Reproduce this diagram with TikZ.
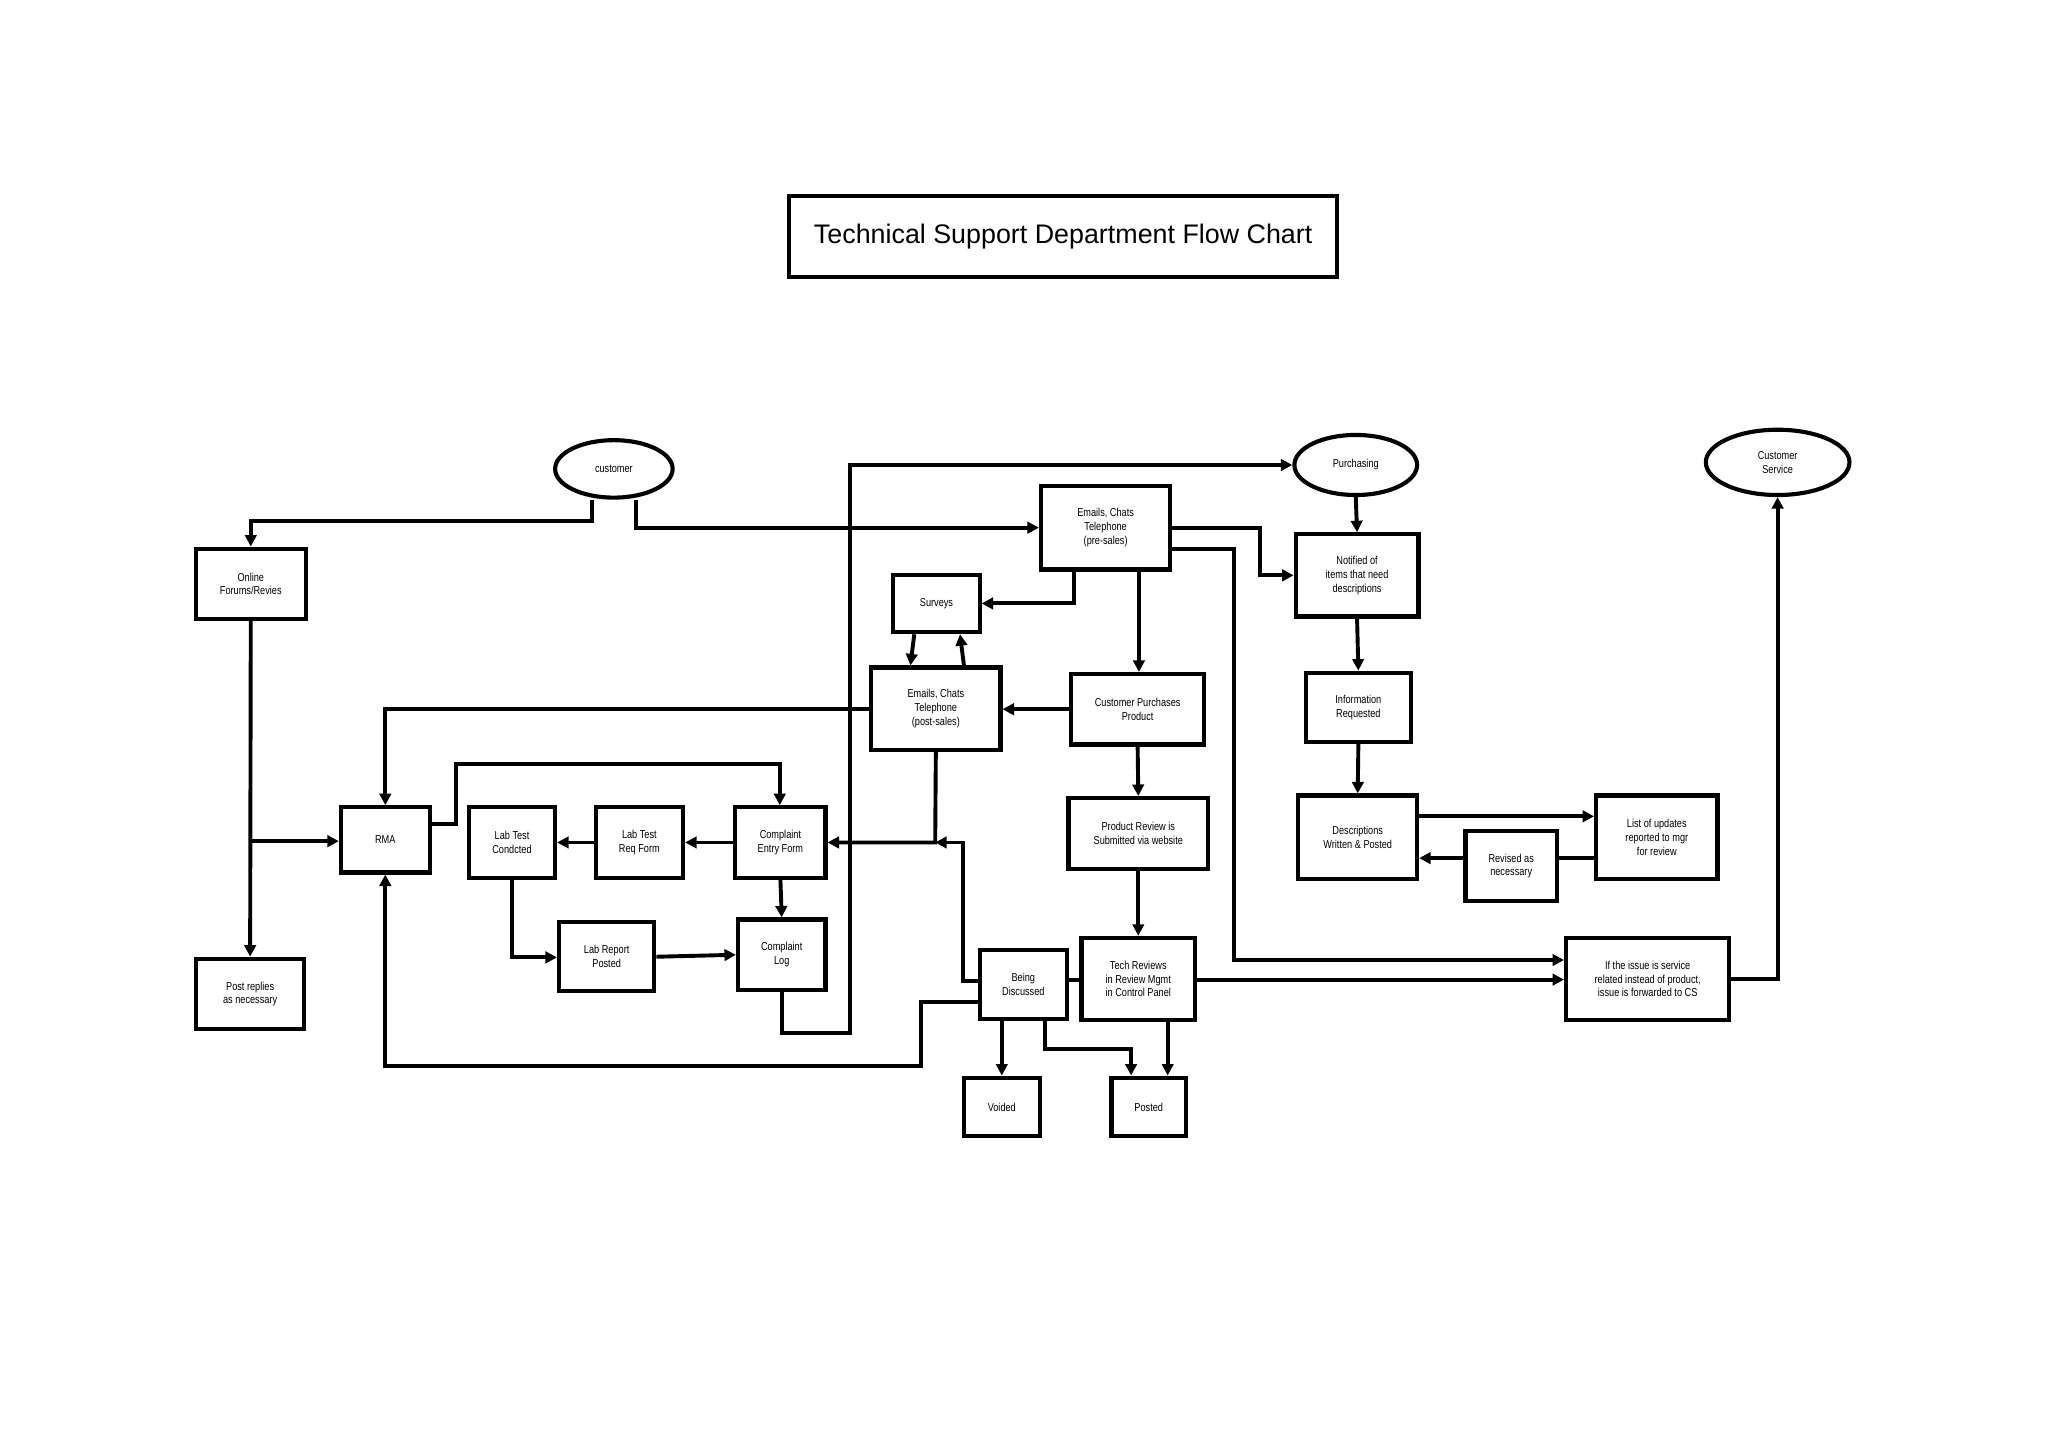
\documentclass[tikz,border=0pt]{standalone}
\usepackage{fontspec}
\setmainfont{Liberation Sans}
\newfontfamily\narrowf{Liberation Sans}[FakeStretch=0.8]
\usetikzlibrary{shapes.geometric,arrows.meta,calc}
\begin{document}
\begin{tikzpicture}[x=0.02cm,y=-0.02cm,
  ln/.style={line width=1.7pt,line join=miter},
  arr/.style={ln,-{Triangle[length=5pt,width=5pt]}},
  bx/.style={draw,line width=1.8pt,align=center,font=\narrowf\fontsize{5}{6}\selectfont,inner sep=1pt},
  el/.style={draw,ellipse,line width=1.8pt,align=center,font=\narrowf\fontsize{5}{6}\selectfont,inner sep=0pt}]
\useasboundingbox (0,0) rectangle (1568,1108);
\node[draw,line width=1.8pt,minimum width=8.4cm,minimum height=1.24cm,font=\fontsize{11.7}{14}\selectfont] (title) at (814,181) {Technical Support Department Flow Chart};
\node[el,minimum width=1.8cm,minimum height=0.88cm] (cust) at (470,359) {customer};
\node[el,minimum width=1.88cm,minimum height=0.92cm] (purch) at (1038,356) {Purchasing};
\node[el,minimum width=2.2cm,minimum height=1.0cm] (cs) at (1361,354) {Customer\\Service};
\node[bx,minimum width=1.68cm,minimum height=1.08cm] (online) at (192,447) {Online\\Forums/Revies};
\node[bx,minimum width=1.66cm,minimum height=1.08cm] (post) at (191.5,761) {Post replies\\as necessary};
\node[bx,minimum width=1.36cm,minimum height=1.0cm] (rma) at (295,643) {RMA};
\node[bx,minimum width=1.32cm,minimum height=1.08cm] (ltc) at (392,645) {Lab Test\\Condcted};
\node[bx,minimum width=1.34cm,minimum height=1.08cm] (ltr) at (489.5,645) {Lab Test\\Req Form};
\node[bx,minimum width=1.38cm,minimum height=1.08cm] (cef) at (597.5,645) {Complaint\\Entry Form};
\node[bx,minimum width=1.46cm,minimum height=1.06cm] (lrp) at (464.5,732.5) {Lab Report\\Posted};
\node[bx,minimum width=1.34cm,minimum height=1.08cm] (clog) at (598.5,731) {Complaint\\Log};
\node[bx,minimum width=1.32cm,minimum height=0.88cm] (surv) at (717,462) {Surveys};
\node[bx,minimum width=1.98cm,minimum height=1.26cm] (epost) at (716.5,542.5) {Emails, Chats\\Telephone\\(post-sales)};
\node[bx,minimum width=1.98cm,minimum height=1.28cm] (epre) at (846.5,404) {Emails, Chats\\Telephone\\(pre-sales)};
\node[bx,minimum width=2.04cm,minimum height=1.08cm] (cpp) at (871,543) {Customer Purchases\\Product};
\node[bx,minimum width=2.14cm,minimum height=1.08cm] (prs) at (871.5,638) {Product Review is\\Submitted via website};
\node[bx,minimum width=1.74cm,minimum height=1.26cm] (tech) at (871.5,749.5) {Tech Reviews\\in Review Mgmt\\in Control Panel};
\node[bx,minimum width=1.34cm,minimum height=1.06cm] (bd) at (783.5,753.5) {Being\\Discussed};
\node[bx,minimum width=1.16cm,minimum height=0.9cm] (void) at (767,847.5) {Voided};
\node[bx,minimum width=1.14cm,minimum height=0.9cm] (posted) at (879.5,847.5) {Posted};
\node[bx,minimum width=1.88cm,minimum height=1.26cm] (notif) at (1039,440.5) {Notified of\\items that need\\descriptions};
\node[bx,minimum width=1.6cm,minimum height=1.06cm] (info) at (1040,541.5) {Information\\Requested};
\node[bx,minimum width=1.82cm,minimum height=1.28cm] (desc) at (1039.5,641) {Descriptions\\Written \& Posted};
\node[bx,minimum width=1.4cm,minimum height=1.08cm] (rev) at (1157,663) {Revised as\\necessary};
\node[bx,minimum width=1.86cm,minimum height=1.28cm] (list) at (1268.5,641) {List of updates\\reported to mgr\\for review};
\node[bx,minimum width=2.5cm,minimum height=1.26cm] (issue) at (1261.5,749.5) {If the issue is service\\related instead of product,\\issue is forwarded to CS};
\coordinate (j1) at (716,645);
\coordinate (j2) at (192,644);
% connectors
\draw[arr] (cust.south -| 453,0) |- (192,399) -- (online.north);
\draw[arr] (cust.south -| 487,0) |- (epre.west |- 0,404);
\draw[arr] (online.south) -- (post.north);
\draw[arr] (j2) -- (rma.west |- j2);
\draw[arr] (epost.west |- 0,543) -| (rma.north);
\draw[arr] (rma.east |- 0,631) -- (349,631) |- (597,585) -- (cef.north -| 597,0);
\draw[arr] (cef.west) -- (ltr.east);
\draw[arr] (ltr.west) -- (ltc.east);
\draw[arr] (ltc.south) |- (lrp.west |- 0,733);
\draw[arr] (lrp.east) -- (clog.west);
\draw[arr] (cef.south) -- (clog.north);
\draw[arr] (clog.south) |- (651,791) |- (purch.west);
\draw[arr] (epost.south) -- (j1) -- (cef.east |- j1);
\draw[arr] (bd.west |- 0,751) -- (737,751) |- (j1);
\draw[arr] (bd.west |- 0,767) -- (705,767) |- (295,816) -- (rma.south);
\draw[arr] (bd.south -| 767,0) -- (void.north);
\draw[arr] (bd.south -| 800,0) |- (866,803) -- (posted.north -| 866,0);
\draw[arr] (tech.south -| 894,0) -- (posted.north -| 894,0);
\draw[ln] (bd.east |- 0,750) -- (tech.west |- 0,750);
\draw[arr] (tech.east |- 0,750) -- (issue.west |- 0,750);
\draw[arr] (epre.east |- 0,420) -- (945,420) |- (issue.west |- 0,735);
\draw[arr] (epre.east |- 0,404) -- (965,404) |- (notif.west);
\draw[arr] (epre.south -| 822,0) |- (surv.east);
\draw[arr] (epre.south -| 872,0) -- (cpp.north -| 872,0);
\draw[arr] (surv.south -| 700,0) -- (epost.north -| 697,0);
\draw[arr] (epost.north -| 738,0) -- (surv.south -| 735,0);
\draw[arr] (cpp.west) -- (epost.east |- cpp.west);
\draw[arr] (cpp.south) -- (prs.north);
\draw[arr] (prs.south) -- (tech.north);
\draw[arr] (purch.south) -- (notif.north);
\draw[arr] (notif.south) -- (info.north);
\draw[arr] (info.south) -- (desc.north);
\draw[arr] (desc.east |- 0,625) -- (list.west |- 0,625);
\draw[ln] (list.west |- 0,657) -- (rev.east |- 0,657);
\draw[arr] (rev.west |- 0,657) -- (desc.east |- 0,657);
\draw[arr] (issue.east) -| (cs.south);
\end{tikzpicture}
\end{document}
